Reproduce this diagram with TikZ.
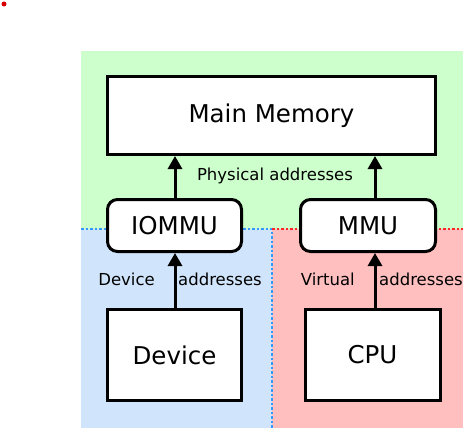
\documentclass[tikz,border=0pt]{standalone}
\usepackage{fontspec}
\setmainfont{DejaVu Sans}
\usepackage{tikz}
\usetikzlibrary{arrows.meta, positioning, backgrounds}
\definecolor{physgreen}{RGB}{204,255,204}
\definecolor{devblue}{RGB}{208,229,252}
\definecolor{cpured}{RGB}{255,191,191}
\definecolor{dotblue}{RGB}{51,153,255}
\definecolor{dotred}{RGB}{255,40,40}
\tikzset{mybox/.style = {draw,line width=3pt,fill=white,font=\fontsize{24.5}{28}\selectfont,inner sep=0pt},
	mmubox/.style = {mybox,rounded corners=10pt,minimum height=52pt},
	addrlabel/.style = {font=\fontsize{16.5}{19}\selectfont,inner sep=0pt},
	addrarrow/.style = {line width=3pt,-{Triangle[width=14pt,length=13pt]}}}

\begin{document}
\begin{tikzpicture}[x=1pt,y=-1pt]
\useasboundingbox (0,0) rectangle (463,428);
\fill[red!85!black] (4,4) circle (2.5pt);
% address spaces
\fill[physgreen] (81,51) rectangle (463,229);
\fill[devblue] (81,229) rectangle (272,428);
\fill[cpured] (272,229) rectangle (463,428);
\draw[dotblue,line width=2.5pt,dotted] (81,229) -- (272,229) -- (272,428);
\draw[dotred,line width=2.5pt,dotted] (272,229) -- (463,229);
% boxes
\node[mybox,minimum width=328pt,minimum height=78pt] (mem) at (271.5,115.5) {Main Memory};
\node[mmubox,minimum width=134pt] (iommu) at (174.5,225.5) {IOMMU};
\node[mmubox,minimum width=135pt] (mmu) at (368,225.5) {MMU};
\node[mybox,minimum width=134pt,minimum height=91pt] (dev) at (174.5,355) {Device};
\node[mybox,minimum width=135pt,minimum height=91pt] (cpu) at (372.5,355) {CPU};
% arrows
\draw[addrarrow] (iommu.north -| 175,0) -- (mem.south -| 175,0);
\draw[addrarrow] (mmu.north -| 375,0) -- (mem.south -| 375,0);
\draw[addrarrow] (dev.north -| 175,0) -- (iommu.south -| 175,0);
\draw[addrarrow] (cpu.north -| 375,0) -- (mmu.south -| 375,0);
% labels
\node[addrlabel] (phys) at (275,176) {Physical addresses};
\node[addrlabel,anchor=east] (devl) at (155,279) {Device};
\node[addrlabel,anchor=west] (deva) at (178,279) {addresses};
\node[addrlabel,anchor=east] (virl) at (355,279) {Virtual};
\node[addrlabel,anchor=west] (vira) at (379,279) {addresses};
\end{tikzpicture}
\end{document}
